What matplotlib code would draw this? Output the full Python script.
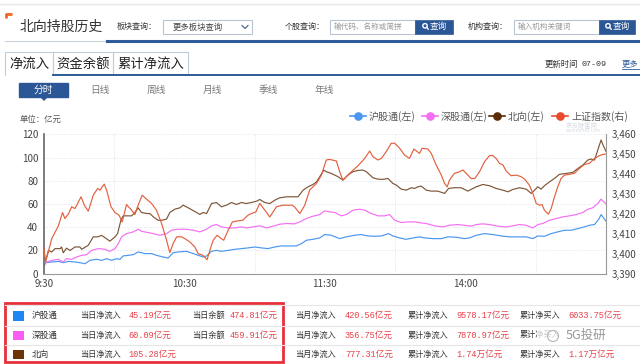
import matplotlib
matplotlib.use("Agg")
import matplotlib.pyplot as plt
from matplotlib.patches import Rectangle, Polygon, Circle

plt.rcParams['font.family'] = ['Noto Sans CJK SC', 'DejaVu Sans']

# --- chart data (minutes since 9:30, trading time; 11:30 == 13:00 at minute 120) ---
hgt_t = [0, 0.8, 3.4, 6.2, 8.3, 10.5, 13.3, 15.4, 17.6, 19.7,
         22.5, 24.7, 26.8, 28.9, 31.1, 32.5, 33.9, 36, 38.2, 40.3,
         43.2, 46, 48.1, 50.9, 53.1, 55.2, 57.4, 60.9, 63.8, 65.9,
         68, 69.5, 71.6, 73.7, 75.8, 78.7, 81.5, 84.4, 87.2, 90.1,
         92.9, 95.7, 98.6, 101.4, 104.3, 107.8, 110, 112.1, 114.9, 117.8,
         119.9, 122.7, 126.3, 129.1, 132.7, 135.5, 138.4, 141.2, 144.1, 147.2,
         149, 151.9, 154.7, 157.6, 160.4, 162.5, 166.1, 169.7, 172.5, 176.1,
         179.6, 181.8, 184.6, 188.1, 191.7, 195.3, 198.8, 202.4, 205.9, 208.8,
         210.9, 213.7, 216.6, 219.4, 222.3, 225.1, 228, 230.8, 232.9, 235.1,
         236.9, 237.9, 240]
hgt_v = [5.8, 9.5, 10.1, 10.6, 9.5, 10.6, 10.1, 9.5, 8.6, 11.5,
         12.4, 11.5, 12.9, 11.5, 12.9, 12.4, 15.3, 15.8, 16.4, 18.7,
         17.3, 17.3, 15.8, 14.4, 13.5, 18.1, 18.7, 19.3, 17.3, 15.8,
         14.4, 15.3, 19.3, 20.1, 19.3, 20.1, 21.0, 21.6, 22.2, 23.0,
         22.2, 21.6, 23.0, 23.9, 23.9, 23.9, 25.9, 28.8, 29.6, 30.8,
         33.7, 33.1, 30.2, 31.7, 33.1, 33.7, 32.5, 32.2, 32.5, 34.5,
         32.5, 30.8, 29.6, 30.8, 31.7, 30.8, 30.2, 30.2, 31.7, 31.4,
         30.2, 30.8, 33.1, 34.5, 33.7, 32.5, 31.7, 31.7, 31.7, 30.2,
         32.5, 32.2, 34.5, 36.0, 37.4, 37.4, 38.8, 40.3, 41.7, 42.3,
         46.9, 50.9, 45.19]

sgt_t = [0, 1.2, 3.4, 6.2, 8.3, 9.7, 11.9, 14, 16.2, 18.3,
         20.4, 23.3, 26.1, 28.2, 30.4, 31.8, 33.2, 35.3, 38.2, 40.3,
         41.7, 44.6, 46.7, 49.5, 52.4, 54.5, 57.4, 60.9, 63.8, 66.6,
         69.5, 71.6, 73.7, 75.8, 78.7, 81.5, 84.4, 86.5, 89.4, 92.2,
         95, 97.9, 100.7, 103.6, 107.1, 109.3, 112.1, 114.9, 117.8, 119.9,
         122, 124.2, 127, 129.1, 132, 134.8, 137, 139.8, 142.6, 145.5,
         147.6, 149.8, 152.6, 155.4, 158.3, 161.1, 163.3, 166.8, 170.4, 173.2,
         176.8, 179.6, 182.4, 184.6, 187.4, 190.3, 193.8, 197.4, 200.2, 203.1,
         205.9, 208.8, 210.9, 213, 215.9, 218.7, 221.6, 224.4, 227.2, 230.1,
         232.2, 234.3, 236.5, 237.9, 240]
sgt_v = [7.2, 10, 11.5, 12.4, 10, 13, 12.4, 14.4, 15.8, 16.4,
         20.1, 21.6, 21, 19.3, 21.6, 25.9, 31.7, 34.5, 36, 38.3,
         36.5, 35.4, 34.5, 33.1, 34.5, 37.4, 38.3, 38.3, 37.4, 36,
         38.3, 41.2, 42.3, 40.3, 39.4, 39.4, 40.3, 39.4, 40.3, 41.2,
         39.4, 40.9, 42.6, 43.2, 42.9, 44.6, 47.5, 49.5, 50.9, 54.1,
         53.2, 52.7, 49.8, 50.9, 54.7, 55.5, 54.7, 51.8, 49.8, 49.8,
         50.9, 46, 44, 44.6, 44.6, 43.7, 43.2, 41.2, 40.3, 41.7,
         42.3, 41.7, 40.9, 42.3, 42.9, 42.3, 40.9, 40.3, 41.2, 42.3,
         41.7, 39.4, 42.3, 43.2, 46, 47.5, 48.9, 49.8, 50.9, 52.7,
         55.5, 56.7, 60.4, 64.2, 60.09]

north_t = [0, 0.8, 2, 3.4, 4.8, 7, 7.6, 8.3, 9.7, 11.2,
           13.3, 15.4, 16.2, 19, 21.1, 23, 24.7, 26.8, 28.2, 30.4,
           31.5, 32.9, 33.9, 37.5, 38.9, 40.3, 41.7, 43.9, 45.3, 46.7,
           48.8, 50.3, 52.4, 53.8, 55.9, 58.1, 59.5, 62.3, 65.2, 66.6,
           68, 69.5, 71.6, 73.7, 75.8, 78, 80.1, 82.2, 84.4, 86.5,
           88.6, 90.8, 92.2, 94.3, 96.5, 98.6, 100.7, 103.6, 106.4, 108.5,
           110.7, 112.8, 114.9, 116.4, 117.8, 119.5, 120.6, 122.7, 125.6, 127.7,
           129.8, 132, 134.1, 136.2, 137.7, 140.5, 142.6, 144.8, 146.9, 149,
           150.5, 152.6, 154.7, 156.9, 158.3, 159.7, 161.1, 163.3, 165.4, 168.2,
           171.1, 172.8, 175.3, 178.2, 181, 184.6, 187.4, 190.3, 193.1, 196,
           198.1, 200.2, 203.1, 205.9, 208.1, 209.5, 210.9, 212.3, 213.7, 215.9,
           218, 220.1, 223, 225.8, 228, 230.1, 232.2, 233.6, 235.1, 236.5,
           237.9, 238.6, 240]
north_v = [14.4, 11.5, 20, 18.7, 21.6, 21.6, 23, 18, 22, 20,
           23, 23, 21, 24.5, 31.7, 31.7, 33, 30, 28, 31.7,
           34.5, 46, 49.8, 49.8, 52.7, 56.7, 52.7, 51.8, 51.8, 49,
           46, 46, 47, 52.7, 55.5, 56.7, 59, 56, 52.7, 51,
           52.7, 51.8, 60.4, 61.3, 57.6, 59, 61.3, 59.6, 61.3, 60.4,
           61.3, 62.4, 63.9, 61.3, 60.4, 63.3, 65.3, 66.2, 66.2, 66.2,
           71.9, 74.8, 76.8, 79.1, 83.5, 89.2, 87.8, 86.3, 83.5, 80.6,
           84.9, 87.8, 88.9, 89.2, 87.8, 82.6, 81.4, 81.2, 82, 77.7,
           76.3, 72.8, 71.9, 74, 73.4, 74.8, 75.4, 71.9, 71.1, 71.1,
           69.1, 73.4, 74, 74, 71.1, 74.8, 76.8, 75.7, 73.4, 71.9,
           70.5, 72.5, 74, 72.8, 69.1, 71.9, 74.8, 72.8, 75.7, 79.1,
           82, 85.5, 86.3, 87.2, 90.6, 93.5, 97.8, 98.7, 97.8, 106.5,
           115.1, 111.4, 105.28]

sh_t = [0, 0.8, 3.4, 6.2, 8, 9, 10.5, 11.9, 13.3, 15.9,
        17.3, 19, 21.1, 23, 24, 25.8, 26.8, 28.7, 30.4, 32.1,
        33.5, 35.3, 37.5, 38.9, 40, 42, 43.9, 46, 48.1, 50.3,
        52.4, 53.8, 55.2, 56.7, 58.8, 60.2, 62.3, 64.5, 65.9, 68,
        69.7, 70.9, 72.3, 74, 75.8, 76.8, 78.7, 80.5, 82.2, 85,
        87.2, 88.6, 90.5, 92.2, 96.5, 99.3, 102, 106, 107, 109.3,
        111.4, 113.5, 116.4, 118.5, 120.6, 122, 124.9, 126.3, 127.7, 129.1,
        131.3, 134.1, 137, 139.1, 140.5, 142.6, 144.1, 146.2, 148.3, 149.8,
        151.9, 154, 156.1, 158, 159.4, 160.4, 161.5, 164, 165.4, 167.5,
        169.7, 171.1, 172.2, 173.2, 175.3, 177.5, 178.9, 180.3, 182.4, 184,
        186, 188.1, 190.3, 191.7, 193.1, 194.5, 196, 197.4, 199.5, 201.7,
        203.8, 205.2, 207.3, 208.8, 210.2, 211.6, 212.7, 213.7, 215.4, 216.6,
        218, 219.4, 220.8, 222.3, 224.4, 226.5, 228.7, 230.8, 232.9, 235.1,
        237.2, 238.6, 240]
sh_v = [3403.4, 3396, 3407.6, 3414, 3420.7, 3417.7, 3420, 3423.6, 3422.7, 3428.6,
        3424.4, 3421.4, 3429.4, 3432.8, 3432, 3435, 3432, 3423.6, 3420.7, 3419.4,
        3416, 3424.7, 3421.9, 3419.7, 3423.6, 3429.4, 3427.4, 3425.3, 3421.9, 3415.2,
        3406.8, 3400.6, 3405.1, 3408.5, 3408.5, 3407.6, 3406, 3403.4, 3400, 3399.2,
        3397, 3401.8, 3406.8, 3409.3, 3407.6, 3406.8, 3411.8, 3416, 3416.4, 3416.9,
        3419.4, 3420.2, 3421, 3425.3, 3418.5, 3423.6, 3424.4, 3424.4, 3423.6, 3420.2,
        3424.4, 3432, 3435.3, 3439.5, 3447.1, 3447.4, 3446.6, 3441.2, 3437, 3438.7,
        3441.2, 3444.2, 3447.9, 3451.6, 3448.8, 3447.1, 3447.9, 3451.3, 3455.5, 3455.5,
        3453, 3449.6, 3447.9, 3452.6, 3451.3, 3450.4, 3453, 3452.6, 3450.4, 3444.6,
        3439.5, 3435.3, 3433.6, 3437, 3440.4, 3441.2, 3442.1, 3440.4, 3437.8, 3437.8,
        3441.2, 3446.2, 3449.3, 3449.3, 3447.9, 3445.4, 3444.6, 3441.5, 3439.2, 3439.5,
        3438.7, 3437.5, 3434.5, 3430.3, 3425.3, 3424.4, 3424.7, 3421.9, 3419.9, 3422.7,
        3428.6, 3433.6, 3437.8, 3439.5, 3439.9, 3440.4, 3442.9, 3444.9, 3445.4, 3447.9,
        3449.3, 3449.9, 3450.1]

x_ticks = [0, 60, 120, 180]
x_labels = ['9:30', '10:30', '11:30', '14:00']
left_ticks = [0, 20, 40, 60, 80, 100, 120]
right_ticks = [3390, 3400, 3410, 3420, 3430, 3440, 3450, 3460]

legend_labels = ['沪股通(左)', '深股通(左)', '北向(左)', '上证指数(右)']
tabs = ['净流入', '资金余额', '累计净流入']
periods = ['分时', '日线', '周线', '月线', '季线', '年线']

row_names = ['沪股通', '深股通', '北向']
row_today = ['45.19亿元', '60.09亿元', '105.28亿元']
row_balance = ['474.81亿元', '459.91亿元', None]
row_month = ['420.56亿元', '356.75亿元', '777.31亿元']
row_total_in = ['9578.17亿元', '7870.97亿元', '1.74万亿元']
row_total_buy = ['6033.75亿元', None, '1.17万亿元']

C_BLUE, C_PINK, C_BROWN, C_RED = '#4a97f0', '#f46ef4', '#7d5638', '#e3603e'
C_NAVY = '#2b5797'
NUM_FONT = ['Liberation Mono', 'Noto Sans CJK SC']

fig = plt.figure(figsize=(6.4, 3.64), dpi=100)
ui = fig.add_axes([0, 0, 1, 1], zorder=0)
ui.set_xlim(0, 640)
ui.set_ylim(364, 0)
ui.axis('off')

# header
ui.plot([0, 640], [4, 4], color='#e8e8e8', lw=1)
ui.plot([5.5, 5.5, 11.5], [18, 13.5, 13.5], color='#f26522', lw=2, solid_capstyle='butt')
ui.text(20, 26.5, '北向持股历史', fontsize=10, color='#333333', va='center')
ui.text(117, 26.5, '板块查询：', fontsize=5.8, color='#333333', va='center')
ui.add_patch(Rectangle((163, 20), 89, 13.5, fc='white', ec='#b9c5d3', lw=0.8))
ui.text(173, 27, '更多板块查询', fontsize=6, color='#444444', va='center')
ui.plot([242, 245, 248], [25.5, 28.5, 25.5], color='#3a5c8c', lw=0.8)
ui.text(285, 26.5, '个股查询：', fontsize=5.8, color='#333333', va='center')
ui.add_patch(Rectangle((330, 19.5), 85, 14, fc='white', ec='#b9c5d3', lw=0.8))
ui.text(334, 26.5, '输代码、名称或简拼', fontsize=5.5, color='#9a9a9a', va='center')
ui.text(468, 26.5, '机构查询：', fontsize=5.8, color='#333333', va='center')
ui.add_patch(Rectangle((514, 19.5), 85, 14, fc='white', ec='#b9c5d3', lw=0.8))
ui.text(518, 26.5, '输入机构关键词', fontsize=5.5, color='#9a9a9a', va='center')
for bx, bw in [(415, 38), (599, 36)]:
    ui.add_patch(Rectangle((bx, 19.5), bw, 14, fc=C_NAVY, ec=C_NAVY, lw=0.5))
    cx = bx + bw / 2 - 9
    ui.add_patch(Circle((cx, 25.8), 2.2, fill=False, ec='white', lw=1))
    ui.plot([cx + 1.6, cx + 3.2], [27.4, 29.2], color='white', lw=1)
    ui.text(cx + 4.5, 26.5, '查询', fontsize=6.2, color='white', va='center')
ui.plot([5, 107], [40.5, 40.5], color='#c9d3de', lw=0.8)
ui.plot([107, 640], [41, 41], color='#2e5b9a', lw=2.2)

# tabs
ui.plot([5, 5, 53, 53], [75, 52, 52, 75], color='#c0ccd9', lw=0.8)
ui.add_patch(Rectangle((53, 52), 60, 22, fill=False, ec='#c0ccd9', lw=0.8))
ui.add_patch(Rectangle((113, 52), 75, 22, fill=False, ec='#c0ccd9', lw=0.8))
ui.plot([53, 640], [74.5, 74.5], color='#2e5b9a', lw=1.4)
for tx, label in zip([29, 83, 150.5], tabs):
    ui.text(tx, 63.5, label, fontsize=9.6, color='#222222', ha='center', va='center')
ui.text(545, 64, '更新时间', fontsize=6, color='#333333', va='center')
ui.text(581, 64, '07-09', fontsize=6, color='#333333', va='center', family=NUM_FONT)
ui.text(622, 64, '更多', fontsize=6, color='#2e5b9a', va='center')
ui.plot([622, 640], [69, 69], color='#2e5b9a', lw=0.6)

# period switch
ui.add_patch(Rectangle((19, 83), 49, 14, fc=C_NAVY, ec=C_NAVY))
ui.add_patch(Polygon([(40, 97), (48, 97), (44, 101)], closed=True, fc=C_NAVY, ec='none'))
for i, (tx, label) in enumerate(zip([43.5, 100, 156, 212, 268, 324], periods)):
    ui.text(tx, 90, label, fontsize=7, ha='center', va='center',
            color='white' if i == 0 else '#7a7a7a')

ui.text(20, 119, '单位：亿元', fontsize=6, color='#555555', va='center')

# legend
for mx, label, col in zip([358, 430, 497, 560], legend_labels,
                          [C_BLUE, C_PINK, '#5b2a06', '#e84a2c']):
    ui.plot([mx - 8, mx + 8], [116, 116], color=col, lw=1.2)
    ui.plot([mx], [116], 'o', color=col, ms=5.2)
    ui.text(mx + 11, 116.5, label, fontsize=7.2, color='#555555', va='center')
# faint site watermark just under the legend
ui.text(566, 125.5, '东方财富网', fontsize=4.6, color='#d5dbe3', va='center')
ui.text(566, 130.5, 'eastmoney.com', fontsize=3.4, color='#d5dbe3', va='center')

# chart
ax = fig.add_axes([43.8 / 640, (364 - 273.7) / 364, (606 - 43.8) / 640, (273.7 - 134.3) / 364],
                  zorder=2)
ax.patch.set_alpha(0)
ax.set_xlim(0, 240)
ax.set_ylim(0, 120)
for yv in left_ticks[1:]:
    ax.axhline(yv, color='#dfe5ec', lw=0.7, ls=(0, (1, 1.5)), zorder=0)
for xv in [30, 90, 150, 210]:
    ax.axvline(xv, color='#dfe5ec', lw=0.7, ls=(0, (1, 1.5)), zorder=0)
ax.plot(hgt_t, hgt_v, color=C_BLUE, lw=0.85)
ax.plot(sgt_t, sgt_v, color=C_PINK, lw=0.85)
ax.plot(north_t, north_v, color=C_BROWN, lw=0.85)
ax.set_xticks(x_ticks)
ax.set_xticklabels(x_labels)
ax.set_yticks(left_ticks)
ax.tick_params(axis='both', length=0, labelsize=7, colors='#444444')
ax.tick_params(axis='y', pad=4)
ax.tick_params(axis='x', pad=4)
ax.spines['top'].set_visible(False)
ax.spines['right'].set_visible(False)
ax.spines['left'].set_color('#666666')
ax.spines['left'].set_linewidth(1.2)
ax.spines['bottom'].set_color('#999999')
ax.spines['bottom'].set_linewidth(0.8)

ax2 = ax.twinx()
ax2.set_ylim(3390, 3460)
ax2.plot(sh_t, sh_v, color=C_RED, lw=0.85)
ax2.set_yticks(right_ticks)
ax2.set_yticklabels([f'{v:,}' for v in right_ticks])
ax2.tick_params(axis='y', length=0, labelsize=7, colors='#444444', pad=4)
for side in ['top', 'left', 'bottom']:
    ax2.spines[side].set_visible(False)
ax2.spines['right'].set_color('#999999')
ax2.spines['right'].set_linewidth(0.8)

# summary table
for ly in [305, 325.5, 345]:
    ui.plot([5, 640], [ly, ly], color='#e6e6e6', lw=0.8)
ui.add_patch(Rectangle((4.5, 302.5), 278, 59, fill=False, ec='#e8303a', lw=2))
row_y = [315.5, 335, 354.3]
sq_cols = ['#1f86f5', '#fb5cf6', '#6b3306']
for i, y in enumerate(row_y):
    ui.add_patch(Rectangle((13, y - 4.5), 11, 9.5, fc=sq_cols[i], ec='none'))
    ui.text(32, y, row_names[i], fontsize=6.2, color='#333333', va='center')
    cells = [(80, '当日净流入', 128.5, row_today[i]),
             (192, '当日余额', 230, row_balance[i]),
             (295, '当月净流入', 345, row_month[i]),
             (408, '累计净流入', 456.5, row_total_in[i]),
             (520, '累计净买入', 568, row_total_buy[i])]
    for lx, lab, vx, val in cells:
        if lab == '当日余额' and val is None:
            continue
        ui.text(lx, y, lab, fontsize=5.9, color='#333333', va='center')
        if val is not None:
            ui.text(vx, y, val, fontsize=6.2, color='#e8414a', va='center', family=NUM_FONT)

# watermark over the hidden value
ui.add_patch(Rectangle((537, 328), 90, 14, fc='white', ec='none', alpha=0.75, zorder=3))
ui.add_patch(Circle((553, 336), 5.5, fill=False, ec='#b5b5b5', lw=0.8, zorder=4))
ui.text(566, 335, '5G投研', fontsize=9, color='#8c8c8c', va='center', zorder=4, alpha=0.9)

fig.savefig('out.png', dpi=100)
